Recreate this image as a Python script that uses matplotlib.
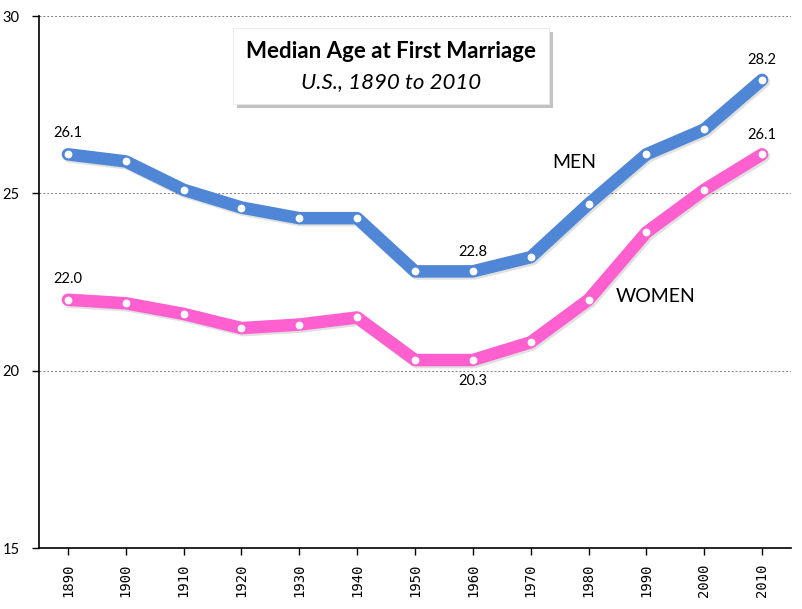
import matplotlib
matplotlib.use("Agg")
import matplotlib.pyplot as plt
import matplotlib.patheffects as pe
from matplotlib.patches import Rectangle

years = ["1890", "1900", "1910", "1920", "1930", "1940", "1950",
         "1960", "1970", "1980", "1990", "2000", "2010"]
men = [26.1, 25.9, 25.1, 24.6, 24.3, 24.3, 22.8, 22.8, 23.2, 24.7, 26.1, 26.8, 28.2]
women = [22.0, 21.9, 21.6, 21.2, 21.3, 21.5, 20.3, 20.3, 20.8, 22.0, 23.9, 25.1, 26.1]
y_ticks = [15, 20, 25, 30]

BLUE = "#4F86D6"
PINK = "#FF5FCF"
FONT = ["Lato", "DejaVu Sans"]

fig = plt.figure(figsize=(8.03, 6.09), dpi=100)
ax = fig.add_axes([39 / 803, 61 / 609, 752 / 803, 532 / 609])

x = list(range(len(years)))
shadow = [pe.SimpleLineShadow(offset=(1.2, -1.5), alpha=0.12, shadow_color="black"), pe.Normal()]
for vals, col in ((women, PINK), (men, BLUE)):
    ax.plot(x, vals, color=col, lw=9, solid_joinstyle="round", solid_capstyle="round",
            path_effects=shadow, zorder=3)
    ax.plot(x, vals, linestyle="none", marker="o", ms=4.6, mfc="white", mec="white", zorder=4)

ax.set_xlim(-0.5, len(years) - 0.5)
ax.set_ylim(15, 30)
ax.set_yticks(y_ticks)
ax.set_yticklabels([str(t) for t in y_ticks], fontfamily=FONT, fontsize=10.5)
ax.set_xticks(x)
ax.set_xticklabels(years, rotation=90, fontfamily="DejaVu Sans Mono", fontsize=10)
ax.tick_params(axis="y", length=5, width=1, pad=9)
ax.tick_params(axis="x", length=5, width=1, pad=6)
for s in ("top", "right"):
    ax.spines[s].set_visible(False)
for s in ("left", "bottom"):
    ax.spines[s].set_linewidth(1.2)
for t in y_ticks[1:]:
    ax.axhline(t, color="#808080", lw=0.7, ls=(0, (2, 2)), zorder=1)

def lab(i, vals, dy):
    ax.annotate(f"{vals[i]:.1f}", (i, vals[i]), xytext=(0, dy), textcoords="offset points",
                ha="center", va="center", fontfamily=FONT, fontsize=10.5, zorder=5)

lab(0, men, 15)
lab(7, men, 14)
lab(12, men, 14)
lab(0, women, 15)
lab(7, women, -15)
lab(12, women, 14)

fig.text(574 / 803, 1 - 163 / 609, "MEN", ha="center", va="center",
         fontfamily=FONT, fontsize=14)
fig.text(656 / 803, 1 - 297 / 609, "WOMEN", ha="center", va="center",
         fontfamily=FONT, fontsize=14)

# title box with shadow
bx0, by0, bx1, by1 = 233, 28, 549, 104
fig.patches.append(Rectangle(((bx0 + 4) / 803, 1 - (by1 + 4) / 609), (bx1 - bx0) / 803,
                             (by1 - by0) / 609, transform=fig.transFigure,
                             facecolor="#9a9a9a", edgecolor="none", alpha=0.6, zorder=5))
fig.patches.append(Rectangle((bx0 / 803, 1 - by1 / 609), (bx1 - bx0) / 803,
                             (by1 - by0) / 609, transform=fig.transFigure,
                             facecolor="white", edgecolor="#e6e6e6", lw=0.6, zorder=6))
fig.text(391 / 803, 1 - 52 / 609, "Median Age at First Marriage", ha="center", va="center",
         fontfamily=FONT, fontsize=16, fontweight="bold", zorder=7)
fig.text(391 / 803, 1 - 82 / 609, "U.S., 1890 to 2010", ha="center", va="center",
         fontfamily=FONT, fontsize=16, fontstyle="italic", zorder=7)

fig.savefig("out.png", dpi=100)
